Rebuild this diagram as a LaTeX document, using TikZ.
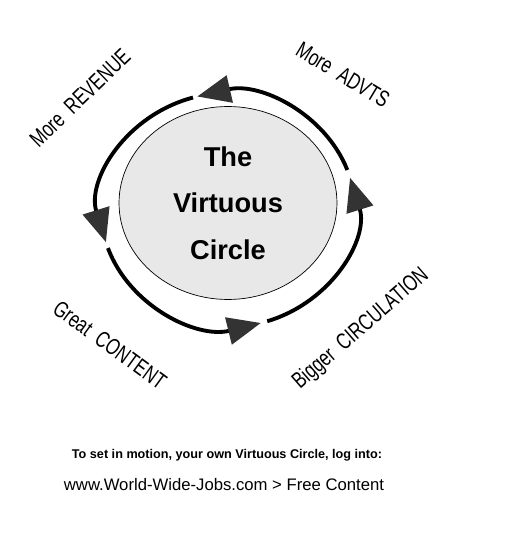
\documentclass[tikz,border=0pt]{standalone}
\usepackage{fontspec}
\setmainfont{Liberation Sans}
\usepackage{xcolor}
\usepackage{tikz}
\usetikzlibrary{arrows.meta, shapes.geometric}
\definecolor{hubfill}{HTML}{E8E8E8}
\definecolor{tipgray}{HTML}{333333}

\begin{document}
\begin{tikzpicture}[
    x=0.02cm, y=0.02cm,
    >={Triangle[length=19pt, width=15.5pt, color=tipgray]},
    hub/.style={draw, ellipse, thin, fill=hubfill, minimum width=4.36cm, minimum height=3.86cm, align=center, font=\fontsize{15.5}{26.5}\selectfont\bfseries},
    cyclearc/.style={->, line width=2.2pt, black},
    tag/.style={font=\fontsize{13}{15}\selectfont, inner sep=0pt},
    foot/.style={font=#1, inner sep=0pt},
]
    \useasboundingbox (0,0) rectangle (512,559);

    % centre of the cycle
    \node[hub] (virtuous) at (228,356) {The\\Virtuous\\Circle};
    \coordinate (ring) at (228,349);

    % the four arrows round it
    \foreach \from/\to in {20/104, 106/196, 199/285, 288/376}
        \draw[cyclearc] ([shift={(\from:2.54cm and 2.34cm)}]ring)
            arc[start angle=\from, end angle=\to, x radius=2.54cm, y radius=2.34cm];

    % labels round the ring
    \node[tag, rotate=44] (revenue) at (80,461) {\scalebox{0.74}[1]{More\ \ REVENUE}};
    \node[tag, rotate=-31] (advts) at (343,484) {\scalebox{0.74}[1]{More\ \ ADVTS}};
    \node[tag, rotate=-36] (content) at (110,214) {\scalebox{0.74}[1]{Great\ \ CONTENT}};
    \node[tag, rotate=41] (circulation) at (361,230) {\scalebox{0.74}[1]{Bigger\ \ CIRCULATION}};

    % footer
    \node[foot=\fontsize{7.2}{9}\selectfont\bfseries] (motion) at (227,104) {To set in motion, your own Virtuous Circle, log into:};
    \node[foot=\fontsize{9.5}{11}\selectfont] (site) at (224,74) {www.World-Wide-Jobs.com > Free Content};
\end{tikzpicture}
\end{document}
